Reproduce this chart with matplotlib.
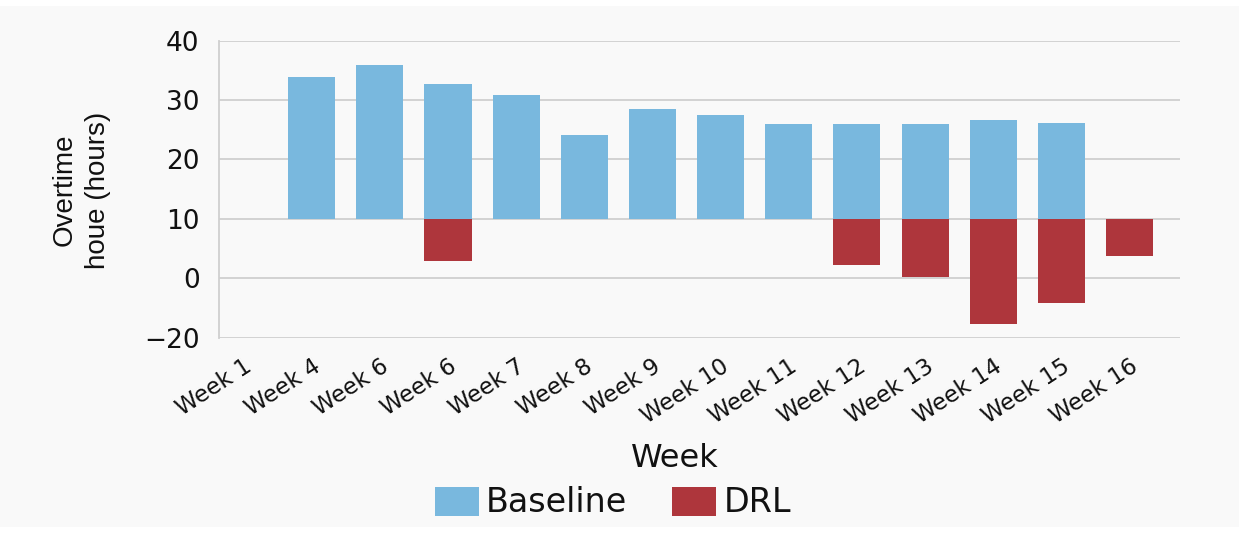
import numpy as np
import matplotlib
matplotlib.use("Agg")
import matplotlib.pyplot as plt
from matplotlib.patches import Rectangle, Patch

# ---- data ----
weeks = ["Week 1", "Week 4", "Week 6", "Week 6", "Week 7", "Week 8", "Week 9",
         "Week 10", "Week 11", "Week 12", "Week 13", "Week 14", "Week 15", "Week 16"]
bar_base = 10
baseline_top = [np.nan, 33.9, 35.8, 32.6, 30.8, 24.1, 28.4,
                27.45, 25.9, 25.9, 25.9, 26.6, 26.1, np.nan]
drl_bottom = [np.nan, np.nan, np.nan, 2.85, np.nan, np.nan, np.nan,
              np.nan, np.nan, 2.2, 0.2, -7.8, -4.25, 3.7]
ytick_vals = [-10, 0, 10, 20, 30, 40]
ytick_labels = ["\u221220", "0", "10", "20", "30", "40"]

BLUE = "#79b8de"
RED = "#ae363c"
BG = "#f9f9f9"
TXT = "#111111"

plt.rcParams['font.family'] = ['DejaVu Sans']

W, H = 1239, 541
fig = plt.figure(figsize=(W / 100, H / 100), dpi=100, facecolor="white")
# light background panel
fig.patches.append(Rectangle((0, 1 - 527 / H), 1, (527 - 6) / H,
                             transform=fig.transFigure, facecolor=BG,
                             edgecolor="none", zorder=-10))

ax = fig.add_axes([219 / W, 1 - 337.5 / H, (1180 - 219) / W, (337.5 - 40.5) / H])
ax.set_facecolor("none")

x = np.arange(len(weeks))
bw = 0.69
b = np.array(baseline_top, dtype=float)
d = np.array(drl_bottom, dtype=float)
ax.bar(x, b - bar_base, bottom=bar_base, width=bw, color=BLUE, zorder=3)
ax.bar(x, d - bar_base, bottom=bar_base, width=bw, color=RED, zorder=3)

ax.set_xlim(-0.36, 13.74)
ax.set_ylim(-10, 40)
ax.set_yticks(ytick_vals)
ax.set_yticklabels(ytick_labels, fontsize=19)
ax.tick_params(axis="y", length=0, pad=14, colors=TXT)
ax.set_xticks(x)
ax.set_xticklabels(weeks, fontsize=16.5, rotation=33, ha="right", va="top",
                   rotation_mode="anchor")
ax.tick_params(axis="x", length=0, pad=12.5, colors=TXT)

ax.grid(axis="y", color="#cfcfcf", linewidth=1.3, zorder=0)
for s in ["top", "right", "bottom"]:
    ax.spines[s].set_visible(False)
ax.spines["left"].set_color("#cfcfcf")
ax.spines["left"].set_linewidth(1.3)

ax.set_xlabel("Week", fontsize=23, color=TXT)
ax.xaxis.label.set_va("baseline")
ax.xaxis.set_label_coords((675 - 219) / 961, (337.5 - 467) / 297)

ax.set_ylabel("Overtime\nhoue (hours)", fontsize=20, color=TXT,
              fontfamily="Liberation Sans",
              linespacing=1.35, multialignment="center")
ax.yaxis.label.set_va("center")
ax.yaxis.set_label_coords((81.5 - 219) / 961, (337.5 - 190) / 297)

handles = [Patch(facecolor=BLUE, label="Baseline"), Patch(facecolor=RED, label="DRL")]
leg = fig.legend(handles=handles, loc="center", bbox_to_anchor=(613 / W, 1 - 503 / H),
                 ncol=2, frameon=False, fontsize=24, handlelength=1.32,
                 handleheight=0.96, handletextpad=0.22, columnspacing=1.35)
for t in leg.get_texts():
    t.set_color(TXT)

fig.savefig("out.png", dpi=100, facecolor="white")
